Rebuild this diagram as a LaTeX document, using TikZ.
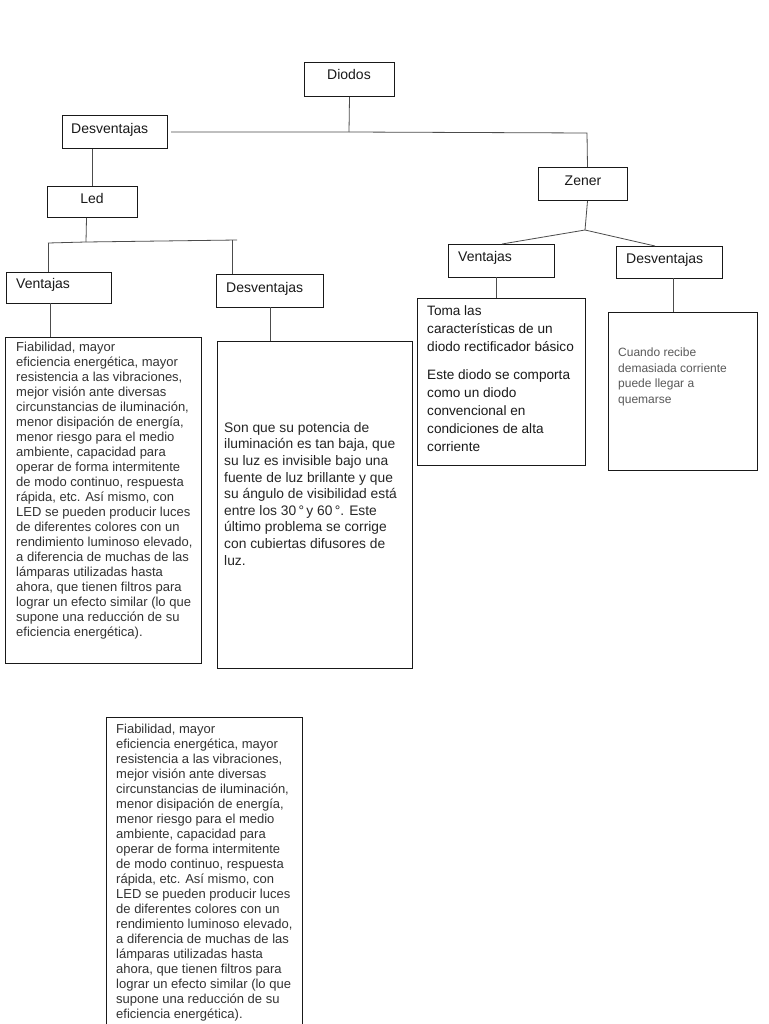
\documentclass[tikz,border=0pt]{standalone}
\usepackage{fontspec}
\setmainfont{Liberation Sans}
\begin{document}
\begin{tikzpicture}[x=1pt,y=-1pt,
  box/.style={draw=black!90,line width=1pt,rectangle,inner sep=0pt,anchor=north west,fill=white},
  conn/.style={draw=black!70,line width=0.8pt},
  lbl/.style={font={\fontsize{14}{16}\selectfont},inner sep=0pt,text=black!90},
  body/.style={font={\fontsize{13}{15}\selectfont},inner sep=0pt,anchor=north west,align=left,text=black!80},
  bodyb/.style={font={\fontsize{13.8}{16.6}\selectfont},inner sep=0pt,anchor=north west,align=left,text=black!85},
  bodyc/.style={font={\fontsize{13.6}{18}\selectfont},inner sep=0pt,anchor=north west,align=left,text=black!90},
  bodyd/.style={font={\fontsize{12}{15.5}\selectfont},inner sep=0pt,anchor=north west,align=left,text=black!65}]
\useasboundingbox (0,0) rectangle (768,1024);
\fill[white] (0,0) rectangle (768,1024);
% boxes
\node[box,minimum width=90,minimum height=34] (diodos) at (304,62) {};
\node[box,minimum width=105,minimum height=33] (desv1) at (62,115) {};
\node[box,minimum width=90,minimum height=31] (led) at (47,186) {};
\node[box,minimum width=89,minimum height=33] (zener) at (538,167) {};
\node[box,minimum width=105,minimum height=31] (vent1) at (6,272) {};
\node[box,minimum width=107,minimum height=33] (desv2) at (216,274) {};
\node[box,minimum width=106,minimum height=33] (zvent) at (448,244) {};
\node[box,minimum width=106,minimum height=32] (zdesv) at (616,246) {};
\node[box,minimum width=196,minimum height=326] (tbox1) at (5,337) {};
\node[box,minimum width=195,minimum height=327] (tbox2) at (217,341) {};
\node[box,minimum width=168,minimum height=167] (tbox3) at (417,298) {};
\node[box,minimum width=149,minimum height=158] (tbox4) at (608,312) {};
\node[box,minimum width=196,minimum height=320] (tbox5) at (106,717) {};
% labels
\node[lbl] (tdiodos) at (349,74) {Diodos};
\node[lbl,anchor=west] (tdesv1) at (71,130) {Desventajas};
\node[lbl] (tled) at (92,198) {Led};
\node[lbl] (tzener) at (583,181) {Zener};
\node[lbl,anchor=west] (tvent1) at (16,285) {Ventajas};
\node[lbl,anchor=west] (tdesv2) at (226,289) {Desventajas};
\node[lbl,anchor=west] (tzvent) at (458,258) {Ventajas};
\node[lbl,anchor=west] (tzdesv) at (626,260) {Desventajas};
% junctions
\coordinate (j1) at (349,132);
\coordinate (j2) at (86,242);
\coordinate (j2l) at (48,243);
\coordinate (j2r) at (237,240);
\coordinate (j3) at (585,230);
% connectors
\draw[conn] (diodos.south) -- (j1);
\draw[conn] ([xshift=3pt]desv1.east) -- (j1) -- (587,133) -- ([xshift=4.5pt]zener.north);
\draw[conn] (desv1.south -| led.north) -- (led.north);
\draw[conn] ([xshift=-6pt]led.south) -- (j2);
\draw[conn] (j2l) -- (j2) -- (j2r);
\draw[conn] (j2l) -- (j2l |- vent1.north);
\draw[conn] (232,240.3) -- (232,274);
\draw[conn] (50,303) -- (50,337);
\draw[conn] (270,307) -- (270,341);
\draw[conn] ([xshift=4.5pt]zener.south) -- (j3);
\draw[conn] (j3) -- (502,244);
\draw[conn] (j3) -- (655,246);
\draw[conn] (496,277) -- (496,298);
\draw[conn] (673,278) -- (673,312);
% texts
\node[body] (txt1) at (16,342) {Fiabilidad, mayor\\eficiencia energética, mayor\\resistencia a las vibraciones,\\mejor visión ante diversas\\circunstancias de iluminación,\\menor disipación de energía,\\menor riesgo para el medio\\ambiente, capacidad para\\operar de forma intermitente\\de modo continuo, respuesta\\rápida, etc. Así mismo, con\\LED se pueden producir luces\\de diferentes colores con un\\rendimiento luminoso elevado,\\a diferencia de muchas de las\\lámparas utilizadas hasta\\ahora, que tienen filtros para\\lograr un efecto similar (lo que\\supone una reducción de su\\eficiencia energética).};
\node[bodyb] (txt2) at (224,422) {Son que su potencia de\\iluminación es tan baja, que\\su luz es invisible bajo una\\fuente de luz brillante y que\\su ángulo de visibilidad está\\entre los 30\,°\,y 60\,°. Este\\último problema se corrige\\con cubiertas difusores de\\luz.};
\node[bodyc] (txt3) at (427,305) {Toma las\\características de un\\diodo rectificador básico\\[10pt]Este diodo se comporta\\como un diodo\\convencional en\\condiciones de alta\\corriente};
\node[bodyd] (txt4) at (618,348) {Cuando recibe\\demasiada corriente\\puede llegar a\\quemarse};
\node[body] (txt5) at (116,724) {Fiabilidad, mayor\\eficiencia energética, mayor\\resistencia a las vibraciones,\\mejor visión ante diversas\\circunstancias de iluminación,\\menor disipación de energía,\\menor riesgo para el medio\\ambiente, capacidad para\\operar de forma intermitente\\de modo continuo, respuesta\\rápida, etc. Así mismo, con\\LED se pueden producir luces\\de diferentes colores con un\\rendimiento luminoso elevado,\\a diferencia de muchas de las\\lámparas utilizadas hasta\\ahora, que tienen filtros para\\lograr un efecto similar (lo que\\supone una reducción de su\\eficiencia energética).};
\end{tikzpicture}
\end{document}
